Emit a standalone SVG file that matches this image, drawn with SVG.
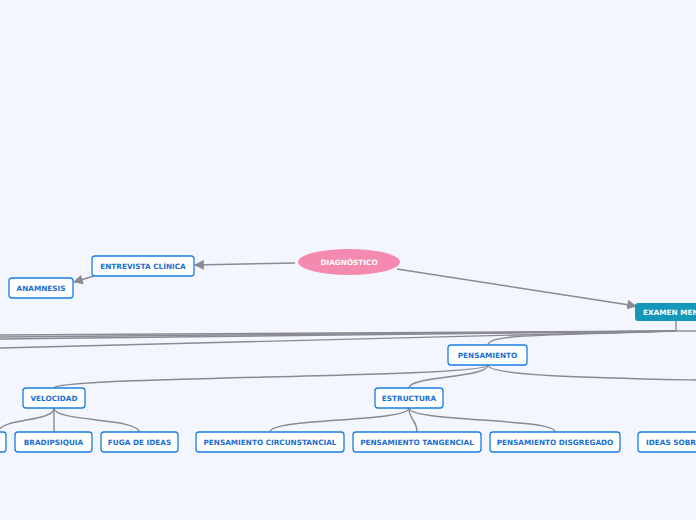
<svg xmlns="http://www.w3.org/2000/svg" width="696" height="520" viewBox="0 0 696 520">
<defs>
<style>
.n rect{fill:#fff;stroke:#1a7de0;stroke-width:1.3}
.t{font-family:"DejaVu Sans",Verdana,sans-serif;font-weight:bold;font-size:7.3px;fill:#1a6fd0;text-anchor:middle;dominant-baseline:central}
.c path{fill:none;stroke:#8a8a90;stroke-width:1.4}
</style>
<marker id="a" viewBox="0 0 10 10" refX="9" refY="5" markerWidth="7" markerHeight="7" orient="auto"><path d="M0,0L10,5L0,10z" fill="#8a8a90"/></marker>
</defs>
<rect width="696" height="520" fill="#f3f6fe"/>
<g class="c">
<path d="M295,263 L195,265" marker-end="url(#a)"/>
<path d="M94,276 L74,282" marker-end="url(#a)"/>
<path d="M397,269 L636,306" marker-end="url(#a)"/>
<path d="M676,321 V331" stroke-width="2.5"/>
<path d="M676,331 L0,335" stroke-width="2.5"/>
<path d="M676,331 L0,337" stroke-width="1.8"/>
<path d="M676,331 L0,339"/>
<path d="M676,331 L0,348"/>
<path d="M676,331 L696,331" stroke-width="2"/>
<path d="M676,331 C540,336 488,334 488,345"/>
<path d="M488,365 C488,378 60,376 54,388"/>
<path d="M488,365 C488,378 409,376 409,388"/>
<path d="M488,365 C488,376 600,378 696,380"/>
<path d="M54,408 C54,422 0,418 -2,432"/>
<path d="M54,408 V432"/>
<path d="M54,408 C54,422 139,418 139,432"/>
<path d="M409,408 C409,422 270,418 270,432"/>
<path d="M409,408 C409,420 417,420 417,432"/>
<path d="M409,408 C409,422 555,418 555,432"/>
</g>
<g id="diag"><ellipse cx="349" cy="262" rx="51" ry="13" fill="#f48aaf"/><text class="t" x="349" y="262" style="fill:#fff">DIAGNÓSTICO</text></g>
<g id="entrevista" class="n"><rect x="92" y="256" width="102" height="20" rx="3"/><text class="t" x="143" y="266">ENTREVISTA CLÍNICA</text></g>
<g id="anamnesis" class="n"><rect x="9" y="278" width="64" height="20" rx="3"/><text class="t" x="41" y="288">ANAMNESIS</text></g>
<g id="examen"><rect x="635" y="303" width="75" height="18" rx="3" fill="#1497b8"/><text class="t" x="643" y="312" style="fill:#fff;text-anchor:start">EXAMEN MENTAL</text></g>
<g id="pensamiento" class="n"><rect x="448" y="345" width="79" height="20" rx="3"/><text class="t" x="487.5" y="355">PENSAMIENTO</text></g>
<g id="velocidad" class="n"><rect x="23" y="388" width="62" height="20" rx="3"/><text class="t" x="54" y="398">VELOCIDAD</text></g>
<g id="estructura" class="n"><rect x="375" y="388" width="68" height="20" rx="3"/><text class="t" x="409" y="398">ESTRUCTURA</text></g>
<g id="left" class="n"><rect x="-20" y="432" width="26" height="20" rx="3"/></g>
<g id="bradi" class="n"><rect x="15" y="432" width="77" height="20" rx="3"/><text class="t" x="53.5" y="442">BRADIPSIQUIA</text></g>
<g id="fuga" class="n"><rect x="101" y="432" width="77" height="20" rx="3"/><text class="t" x="139.5" y="442">FUGA DE IDEAS</text></g>
<g id="circ" class="n"><rect x="196" y="432" width="148" height="20" rx="3"/><text class="t" x="270" y="442">PENSAMIENTO CIRCUNSTANCIAL</text></g>
<g id="tang" class="n"><rect x="353" y="432" width="128" height="20" rx="3"/><text class="t" x="417" y="442">PENSAMIENTO TANGENCIAL</text></g>
<g id="disg" class="n"><rect x="490" y="432" width="130" height="20" rx="3"/><text class="t" x="555" y="442">PENSAMIENTO DISGREGADO</text></g>
<g id="ideas" class="n"><rect x="638" y="432" width="80" height="20" rx="3"/><text class="t" x="646" y="442" style="text-anchor:start">IDEAS SOBREVALORADAS</text></g>
</svg>
